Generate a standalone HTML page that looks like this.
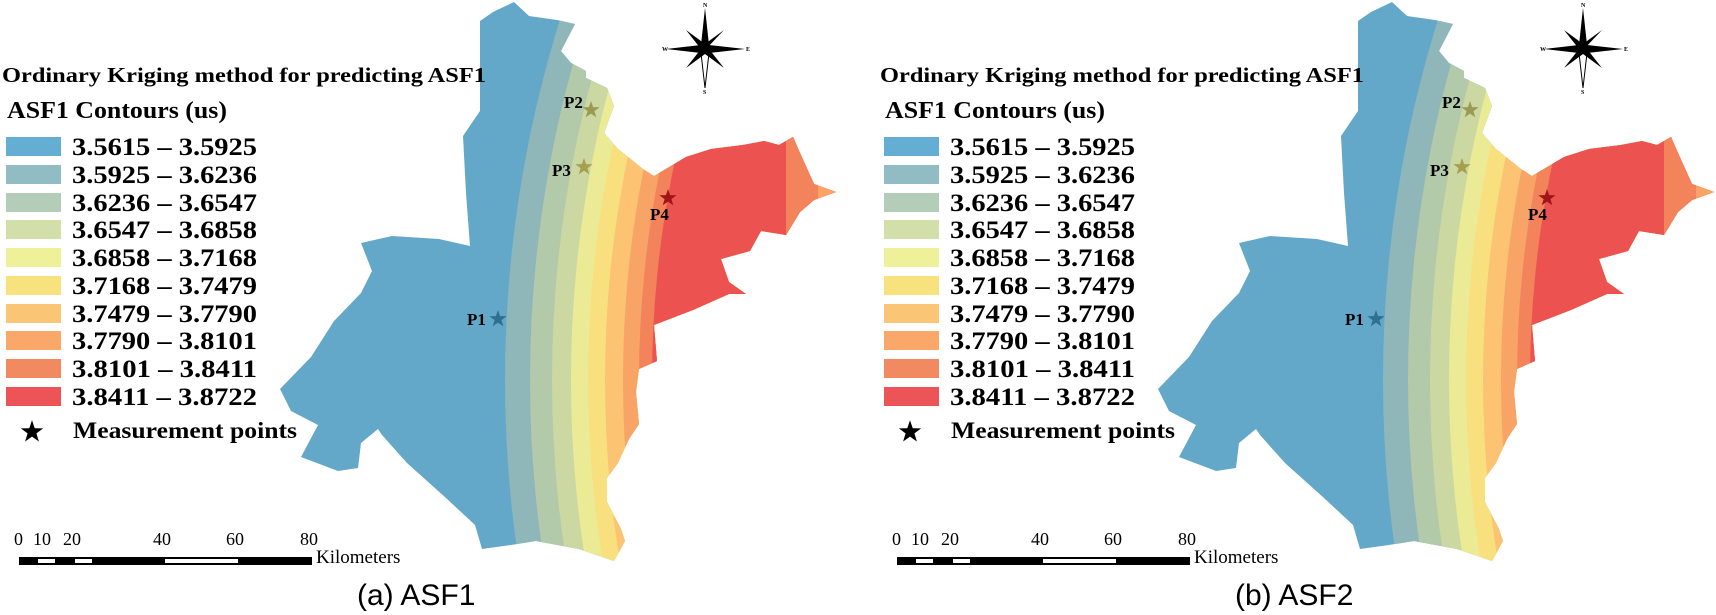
<!DOCTYPE html>
<html><head><meta charset="utf-8"><style>
html,body{margin:0;padding:0;background:#fff;width:1716px;height:615px;overflow:hidden;}
svg{display:block;}
.t{font-family:"Liberation Serif",serif;font-weight:bold;fill:#000;}
.c{font-family:"Liberation Sans",sans-serif;fill:#000;}
</style></head><body>
<svg width="1716" height="615" viewBox="0 0 1716 615" xmlns="http://www.w3.org/2000/svg">
<defs>
<clipPath id="clip">
<polygon points="480,21 493,12 514,2 529,16 557,20 575,24 561,51 571,63 586,71 586,78 607,88 614,106 604,133 618,149 643,169 654,176 686,157 711,149 743,145 764,141 779,145 793,137 800,153 814,184 836,192 814,200 800,212 786,235 761,231 750,251 721,259 729,282 746,294 729,294 693,310 654,325 657,361 639,369 636,392 639,424 629,439 618,463 607,478 607,502 621,529 625,541 614,561 579,549 536,541 511,545 482,549 475,525 446,498 407,463 382,435 378,429 361,443 358,468 338,471 301,457 318,425 291,411 280,389 311,357 334,321 361,293 372,271 361,243 392,236 439,239 470,246 466,193 463,136 480,111"/>
</clipPath>
<g id="map">
<g clip-path="url(#clip)">
<rect x="250" y="0" width="620" height="600" fill="#63a8c9"/>
<circle cx="1714" cy="380" r="1209" fill="#8fb6b9"/>
<circle cx="1714" cy="380" r="1184" fill="#b2c9aa"/>
<circle cx="1714" cy="380" r="1162" fill="#ccd8a2"/>
<circle cx="1714" cy="380" r="1143" fill="#ebeb96"/>
<circle cx="1714" cy="380" r="1126" fill="#f8e07e"/>
<circle cx="1714" cy="380" r="1109" fill="#fbc372"/>
<circle cx="1714" cy="380" r="1091" fill="#f8a466"/>
<circle cx="1714" cy="380" r="1075" fill="#f2835b"/>
<circle cx="1714" cy="380" r="1062" fill="#ec5350"/>
<rect x="786" y="100" width="100" height="200" fill="#f2835b"/>
<rect x="818" y="100" width="100" height="200" fill="#f8a466"/>
</g>
</g>
<g id="comp">
<polygon points="705,8 709,45 705,49 701,45" fill="#000"/>
<polygon points="705,88 709,53 705,49 701,53" fill="#fff" stroke="#000" stroke-width="1"/>
<polygon points="666,49 701,45 705,49 701,53" fill="#000"/>
<polygon points="745,49 709,53 705,49 709,45" fill="#000"/>
<polygon points="686,30 705,44 705,49 701,49" fill="#000"/>
<polygon points="724,30 706,49 705,49 705,44" fill="#000"/>
<polygon points="686,68 701,49 705,49 705,54" fill="#000"/>
<polygon points="724,68 705,54 705,49 709,49" fill="#000"/>
</g>
<polygon id="st" points="0,-9 2.1,-2.9 8.6,-2.8 3.4,1.1 5.3,7.3 0,3.6 -5.3,7.3 -3.4,1.1 -8.6,-2.8 -2.1,-2.9"/>
</defs>

<!-- ===== LEFT PANEL ===== -->
<use href="#map"/>
<use href="#comp"/>
<text x="662" y="51" font-size="6" class="t" font-weight="normal">W</text>
<text x="703" y="7" font-size="6" class="t" font-weight="normal">N</text>
<text x="746" y="51" font-size="6" class="t" font-weight="normal">E</text>
<text x="703" y="94" font-size="6" class="t" font-weight="normal">S</text>
<use href="#st" transform="translate(498,319)" fill="#2f6f90"/>
<use href="#st" transform="translate(591,110)" fill="#9a9a55"/>
<use href="#st" transform="translate(584,167)" fill="#a59f4e"/>
<use href="#st" transform="translate(668,198)" fill="#a0151a"/>
<text class="t" x="467" y="325" font-size="17">P1</text>
<text class="t" x="564" y="108" font-size="17">P2</text>
<text class="t" x="552" y="176" font-size="17">P3</text>
<text class="t" x="650" y="220" font-size="17">P4</text>

<text class="t" x="2" y="82" font-size="21" textLength="484" lengthAdjust="spacingAndGlyphs">Ordinary Kriging method for predicting ASF1</text>
<text class="t" x="7" y="118" font-size="24" textLength="220" lengthAdjust="spacingAndGlyphs">ASF1 Contours (us)</text>
<g>
<rect x="6" y="137" width="55" height="19" fill="#65aed3"/>
<rect x="6" y="165" width="55" height="19" fill="#91bcc4"/>
<rect x="6" y="193" width="55" height="19" fill="#b3cdb8"/>
<rect x="6" y="220" width="55" height="19" fill="#d2dfa9"/>
<rect x="6" y="248" width="55" height="19" fill="#eef09a"/>
<rect x="6" y="276" width="55" height="19" fill="#f8e27e"/>
<rect x="6" y="304" width="55" height="19" fill="#fbc576"/>
<rect x="6" y="331" width="55" height="19" fill="#f9a86a"/>
<rect x="6" y="359" width="55" height="19" fill="#f28a61"/>
<rect x="6" y="387" width="55" height="19" fill="#ed5458"/>
</g>
<g class="t" font-size="25">
<text x="72" y="155" textLength="185" lengthAdjust="spacingAndGlyphs">3.5615 – 3.5925</text>
<text x="72" y="183" textLength="185" lengthAdjust="spacingAndGlyphs">3.5925 – 3.6236</text>
<text x="72" y="211" textLength="185" lengthAdjust="spacingAndGlyphs">3.6236 – 3.6547</text>
<text x="72" y="238" textLength="185" lengthAdjust="spacingAndGlyphs">3.6547 – 3.6858</text>
<text x="72" y="266" textLength="185" lengthAdjust="spacingAndGlyphs">3.6858 – 3.7168</text>
<text x="72" y="294" textLength="185" lengthAdjust="spacingAndGlyphs">3.7168 – 3.7479</text>
<text x="72" y="322" textLength="185" lengthAdjust="spacingAndGlyphs">3.7479 – 3.7790</text>
<text x="72" y="349" textLength="185" lengthAdjust="spacingAndGlyphs">3.7790 – 3.8101</text>
<text x="72" y="377" textLength="185" lengthAdjust="spacingAndGlyphs">3.8101 – 3.8411</text>
<text x="72" y="405" textLength="185" lengthAdjust="spacingAndGlyphs">3.8411 – 3.8722</text>
</g>
<use href="#st" transform="translate(32,432) scale(1.3)" fill="#000"/>
<text class="t" x="73" y="438" font-size="23" textLength="224" lengthAdjust="spacingAndGlyphs">Measurement points</text>

<g font-family="Liberation Serif, serif" font-size="18" fill="#000">
<text x="14" y="545">0</text><text x="33" y="545">10</text><text x="63" y="545">20</text>
<text x="153" y="545">40</text><text x="226" y="545">60</text><text x="300" y="545">80</text>
<text x="316" y="563" font-size="19">Kilometers</text>
</g>
<rect x="19" y="557" width="293" height="8" fill="#000"/>
<rect x="38" y="559" width="17" height="4" fill="#fff"/>
<rect x="75" y="559" width="17" height="4" fill="#fff"/>
<rect x="165" y="559" width="73" height="4" fill="#fff"/>
<text class="c" x="357" y="605" font-size="30">(a) ASF1</text>

<!-- ===== RIGHT PANEL ===== -->
<g transform="translate(878,0)">
<use href="#map"/>
<use href="#comp"/>
<text x="662" y="51" font-size="6" class="t" font-weight="normal">W</text>
<text x="703" y="7" font-size="6" class="t" font-weight="normal">N</text>
<text x="746" y="51" font-size="6" class="t" font-weight="normal">E</text>
<text x="703" y="94" font-size="6" class="t" font-weight="normal">S</text>
<use href="#st" transform="translate(498,319)" fill="#2f6f90"/>
<use href="#st" transform="translate(592,110)" fill="#9a9a55"/>
<use href="#st" transform="translate(584,167)" fill="#a59f4e"/>
<use href="#st" transform="translate(669,198)" fill="#a0151a"/>
<text class="t" x="467" y="325" font-size="17">P1</text>
<text class="t" x="564" y="108" font-size="17">P2</text>
<text class="t" x="552" y="176" font-size="17">P3</text>
<text class="t" x="650" y="220" font-size="17">P4</text>

<text class="t" x="2" y="82" font-size="21" textLength="484" lengthAdjust="spacingAndGlyphs">Ordinary Kriging method for predicting ASF1</text>
<text class="t" x="7" y="118" font-size="24" textLength="220" lengthAdjust="spacingAndGlyphs">ASF1 Contours (us)</text>
<g>
<rect x="6" y="137" width="55" height="19" fill="#65aed3"/>
<rect x="6" y="165" width="55" height="19" fill="#91bcc4"/>
<rect x="6" y="193" width="55" height="19" fill="#b3cdb8"/>
<rect x="6" y="220" width="55" height="19" fill="#d2dfa9"/>
<rect x="6" y="248" width="55" height="19" fill="#eef09a"/>
<rect x="6" y="276" width="55" height="19" fill="#f8e27e"/>
<rect x="6" y="304" width="55" height="19" fill="#fbc576"/>
<rect x="6" y="331" width="55" height="19" fill="#f9a86a"/>
<rect x="6" y="359" width="55" height="19" fill="#f28a61"/>
<rect x="6" y="387" width="55" height="19" fill="#ed5458"/>
</g>
<g class="t" font-size="25">
<text x="72" y="155" textLength="185" lengthAdjust="spacingAndGlyphs">3.5615 – 3.5925</text>
<text x="72" y="183" textLength="185" lengthAdjust="spacingAndGlyphs">3.5925 – 3.6236</text>
<text x="72" y="211" textLength="185" lengthAdjust="spacingAndGlyphs">3.6236 – 3.6547</text>
<text x="72" y="238" textLength="185" lengthAdjust="spacingAndGlyphs">3.6547 – 3.6858</text>
<text x="72" y="266" textLength="185" lengthAdjust="spacingAndGlyphs">3.6858 – 3.7168</text>
<text x="72" y="294" textLength="185" lengthAdjust="spacingAndGlyphs">3.7168 – 3.7479</text>
<text x="72" y="322" textLength="185" lengthAdjust="spacingAndGlyphs">3.7479 – 3.7790</text>
<text x="72" y="349" textLength="185" lengthAdjust="spacingAndGlyphs">3.7790 – 3.8101</text>
<text x="72" y="377" textLength="185" lengthAdjust="spacingAndGlyphs">3.8101 – 3.8411</text>
<text x="72" y="405" textLength="185" lengthAdjust="spacingAndGlyphs">3.8411 – 3.8722</text>
</g>
<use href="#st" transform="translate(32,432) scale(1.3)" fill="#000"/>
<text class="t" x="73" y="438" font-size="23" textLength="224" lengthAdjust="spacingAndGlyphs">Measurement points</text>

<g font-family="Liberation Serif, serif" font-size="18" fill="#000">
<text x="14" y="545">0</text><text x="33" y="545">10</text><text x="63" y="545">20</text>
<text x="153" y="545">40</text><text x="226" y="545">60</text><text x="300" y="545">80</text>
<text x="316" y="563" font-size="19">Kilometers</text>
</g>
<rect x="19" y="557" width="293" height="8" fill="#000"/>
<rect x="38" y="559" width="17" height="4" fill="#fff"/>
<rect x="75" y="559" width="17" height="4" fill="#fff"/>
<rect x="165" y="559" width="73" height="4" fill="#fff"/>
<text class="c" x="357" y="605" font-size="30">(b) ASF2</text>
</g>
</svg>
</body></html>
